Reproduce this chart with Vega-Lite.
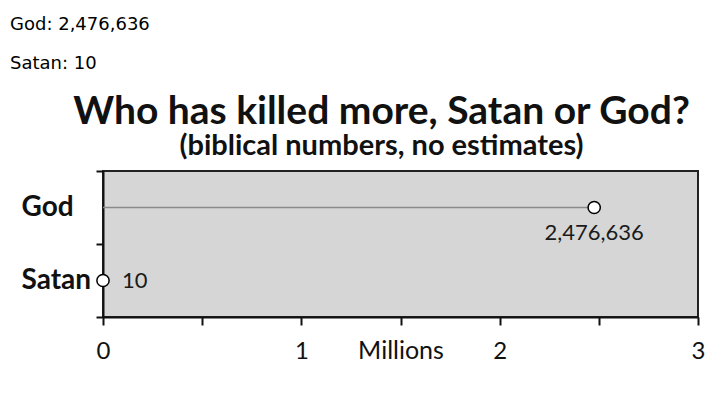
{
  "$schema": "https://vega.github.io/schema/vega-lite/v6.json",
  "background": "white",
  "padding": {"left": 10, "top": 16, "right": 0, "bottom": 0},
  "title": {
    "text": "God: 2,476,636",
    "subtitle": "Satan: 10",
    "anchor": "start",
    "dx": -10,
    "font": "DejaVu Sans",
    "fontSize": 18,
    "fontWeight": "normal",
    "color": "black",
    "subtitleFont": "DejaVu Sans",
    "subtitleFontSize": 18,
    "subtitleColor": "black",
    "subtitlePadding": 21,
    "offset": 19
  },
  "datasets": {
    "kills": [
      {"who": "God", "kills": 2476636},
      {"who": "Satan", "kills": 10}
    ]
  },
  "vconcat": [
    {
      "width": 595,
      "height": 146,
      "data": {"name": "kills"},
      "title": {
        "text": "Who has killed more, Satan or God?",
        "subtitle": "(biblical numbers, no estimates)",
        "anchor": "middle",
        "frame": "group",
        "dx": -19,
        "font": "Lato",
        "fontSize": 39,
        "fontWeight": "bold",
        "color": "#111",
        "subtitleFont": "Lato",
        "subtitleFontSize": 29,
        "subtitleFontWeight": "bold",
        "subtitleColor": "#111",
        "subtitlePadding": 0,
        "offset": -4
      },
      "encoding": {
        "y": {
          "field": "who",
          "type": "nominal",
          "sort": ["God", "Satan"],
          "scale": {"paddingInner": 0, "paddingOuter": 0},
          "axis": {
            "title": null,
            "tickBand": "extent",
            "tickSize": 7,
            "labelAlign": "left",
            "labelPadding": 75,
            "labelFontSize": 28,
            "labelFontWeight": "bold",
            "labelBaseline": "middle"
          }
        }
      },
      "layer": [
        {
          "mark": {"type": "rule", "color": "#8a8a8a", "strokeWidth": 1.5},
          "encoding": {
            "x": {
              "field": "kills",
              "type": "quantitative",
              "scale": {"domain": [0, 3000000], "nice": false},
              "axis": {
                "values": [0, 500000, 1000000, 1500000, 2000000, 2500000, 3000000],
                "labelExpr": "datum.value % 1000000 === 0 ? '' + datum.value / 1000000 : ''",
                "tickSize": 8,
                "labelFontSize": 24,
                "labelBaseline": "alphabetic",
                "labelPadding": 33,
                "labelFlush": false,
                "labelOverlap": false,
                "title": "Millions",
                "titleFontSize": 25,
                "titleFontWeight": "normal",
                "titleBaseline": "alphabetic",
                "titleY": 41
              }
            },
            "x2": {"datum": 0}
          }
        },
        {
          "mark": {"type": "point", "filled": true, "fill": "white", "stroke": "black", "strokeWidth": 1.5, "size": 150, "opacity": 1},
          "encoding": {
            "x": {"field": "kills", "type": "quantitative"}
          }
        },
        {
          "transform": [{"filter": "datum.who == 'God'"}],
          "mark": {"type": "text", "align": "center", "baseline": "middle", "dy": 25, "fontSize": 22, "color": "#1a1a1a"},
          "encoding": {
            "x": {"field": "kills", "type": "quantitative"},
            "text": {"field": "kills", "type": "quantitative", "format": ","}
          }
        },
        {
          "transform": [{"filter": "datum.who == 'Satan'"}],
          "mark": {"type": "text", "align": "left", "baseline": "middle", "dx": 19, "fontSize": 22, "color": "#1a1a1a"},
          "encoding": {
            "x": {"field": "kills", "type": "quantitative"},
            "text": {"field": "kills", "type": "quantitative", "format": ","}
          }
        }
      ]
    }
  ],
  "config": {
    "font": "Lato",
    "view": {"stroke": "#222", "strokeWidth": 2, "fill": "#d6d6d6"},
    "axis": {
      "grid": false,
      "domainColor": "#111",
      "domainWidth": 2,
      "tickColor": "#111",
      "tickWidth": 2,
      "labelColor": "#111",
      "titleColor": "#111",
      "labelFont": "Lato",
      "titleFont": "Lato"
    },
    "concat": {"spacing": 0}
  }
}
